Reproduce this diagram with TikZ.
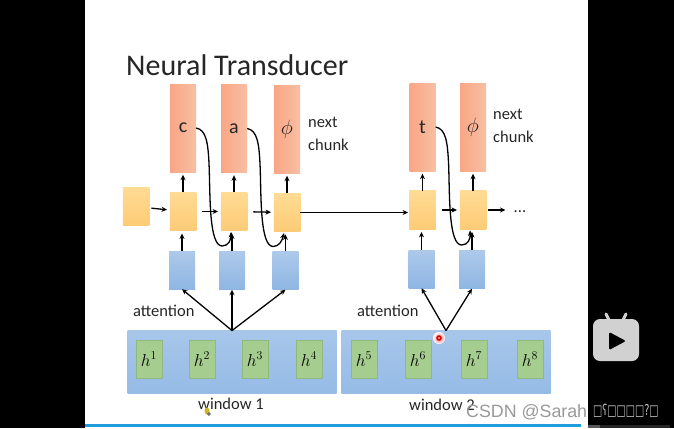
\documentclass[tikz,border=0pt]{standalone}
\usepackage{amsmath}
\usepackage{fontspec}
\setmainfont{Carlito}
\newfontfamily\markfont{Liberation Sans}
\newfontfamily\tofufont{DejaVu Sans}
\usepackage{tikz}
\usetikzlibrary{positioning,arrows.meta,calc,shapes.geometric}

\definecolor{outleft}{HTML}{F9A685}
\definecolor{outright}{HTML}{F8BFA3}
\definecolor{rnntop}{HTML}{FFDB94}
\definecolor{rnnbot}{HTML}{FDCB76}
\definecolor{ctxtop}{HTML}{ADC9EA}
\definecolor{ctxbot}{HTML}{8FB6E3}
\definecolor{wintop}{HTML}{A8C6EA}
\definecolor{winbot}{HTML}{95BBE6}
\definecolor{encfill}{HTML}{A6CD90}
\definecolor{encline}{HTML}{90B87C}
\definecolor{inktext}{HTML}{262626}

\begin{document}
\begin{tikzpicture}[x=1pt,y=-1pt,node distance=50pt,on grid,auto]

  \tikzset{
    outbox/.style={minimum width=26pt,minimum height=88pt,inner sep=0pt,left color=outleft,right color=outright,font=\fontsize{20}{20}\selectfont,text=inktext},
    rnnbox/.style={minimum width=26.5pt,minimum height=38.5pt,inner sep=0pt,top color=rnntop,bottom color=rnnbot},
    ctxbox/.style={minimum width=26pt,minimum height=38pt,inner sep=0pt,top color=ctxtop,bottom color=ctxbot},
    window/.style={minimum width=209pt,minimum height=62.5pt,inner sep=0pt,top color=wintop,bottom color=winbot},
    encbox/.style={minimum width=26pt,minimum height=38pt,inner sep=0pt,fill=encfill,draw=encline,font=\fontsize{17}{17}\selectfont},
    lab/.style={font=\fontsize{16.5}{23}\selectfont,text=inktext,inner sep=0pt},
    link/.style={-{Stealth[length=5.5pt,width=5pt]},line width=1.3pt,shorten >=2.5pt},
    skipline/.style={-{Stealth[length=5.5pt,width=5pt]},line width=1.3pt},
  }

  % panels
  \fill[white] (0,0) rectangle (674,428);
  \fill[black] (0,0) rectangle (85,428);
  \fill[black] (588,0) rectangle (674,428);
  \fill[cyan!80!blue!90!white] (85,424) rectangle (581,427);
  \fill[black!65] (588,425) rectangle (600,428);
  \fill[black!85] (600,425) rectangle (670,428);

  \node[anchor=base west,inner sep=0pt,font=\fontsize{30}{30}\selectfont,text=inktext] (title) at (126,75) {Neural Transducer};

  \node[rnnbox] (rnn0) at (136,206.5) {};
  \node[rnnbox] (rnn1) [right=47pt of rnn0,yshift=-5pt] {};
  \node[rnnbox] (rnn2) [right=51pt of rnn1] {};
  \node[rnnbox] (rnn3) [right=53pt of rnn2,yshift=-1pt] {};
  \node[rnnbox] (rnn4) [right=135.5pt of rnn3,yshift=2.5pt] {};
  \node[rnnbox] (rnn5) [right=50.5pt of rnn4] {};
  \node[lab] (dots) [right=40.5pt of rnn5,yshift=-2pt,anchor=west] {...};

  \node[outbox] (c) [above=83.5pt of rnn1] {c};
  \node[outbox] (a) [above=83pt of rnn2] {a};
  \node[outbox] (phi1) [above=83.5pt of rnn3] {$\phi$};
  \node[outbox] (t) [above=83pt of rnn4] {t};
  \node[outbox] (phi2) [above=83pt of rnn5] {$\phi$};

  \node[lab,align=left] (next1) [right=21pt of phi1,yshift=-5pt,anchor=west] {next\\chunk};
  \node[lab,align=left] (next2) [right=20pt of phi2,yshift=1.5pt,anchor=west] {next\\chunk};

  \node[ctxbox] (b1) [below=58.5pt of rnn1,xshift=-1pt] {};
  \node[ctxbox] (b2) [below=59pt of rnn2,xshift=-2pt] {};
  \node[ctxbox] (b3) [below=58pt of rnn3,xshift=-1.5pt] {};
  \node[ctxbox] (b4) [below=59pt of rnn4,xshift=-1pt] {};
  \node[ctxbox] (b5) [below=59.5pt of rnn5,xshift=-1pt] {};

  \node[window] (win1) at (232,362) {};
  \node[window] (win2) [right=214pt of win1] {};

  \node[encbox] (h1) at (149,359) {$h^1$};
  \node[encbox] (h2) [right=53pt of h1] {$h^2$};
  \node[encbox] (h3) [right=53pt of h2] {$h^3$};
  \node[encbox] (h4) [right=54pt of h3] {$h^4$};
  \node[encbox] (h5) at (364,359) {$h^5$};
  \node[encbox] (h6) [right=54pt of h5] {$h^6$};
  \node[encbox] (h7) [right=56pt of h6] {$h^7$};
  \node[encbox] (h8) [right=56pt of h7] {$h^8$};

  \node[lab,anchor=base west] (att1) at (133,316) {attention};
  \node[lab,anchor=base west] (att2) at (357,316) {attention};
  \node[lab,anchor=base west] (win1lab) at (198,409) {window 1};
  \node[lab,anchor=base west] (win2lab) at (409,410) {window 2};

  % forward chain
  \path[link,shorten <=2pt] (rnn0) edge (rnn1);
  \path[link,shorten <=6pt] (rnn1) edge (rnn2);
  \path[link,shorten <=6pt] (rnn2) edge (rnn3);
  \draw[link,shorten >=1pt] (rnn3.east) to (rnn3.east -| rnn4.west);
  \path[link,shorten <=6pt] (rnn4) edge (rnn5);
  \draw[link,shorten <=2pt,shorten >=8pt] (rnn5.east) to (rnn5.east -| dots.west);

  \path[link] (rnn1) edge (c);
  \path[link] (rnn2) edge (a);
  \path[link] (rnn3) edge (phi1);
  \path[link] (rnn4) edge (t);
  \path[link] (rnn5) edge (phi2);

  \draw[link] (b1.north) to (b1.north |- rnn1.south);
  \draw[link] (b2.north) to (b2.north |- rnn2.south);
  \draw[link] (b3.north) to (b3.north |- rnn3.south);
  \draw[link] (b4.north) to (b4.north |- rnn4.south);
  \draw[link] (b5.north) to (b5.north |- rnn5.south);

  \draw[link,shorten >=0pt] (win1.north) to (b1.south);
  \draw[link,shorten >=0pt] (win1.north) to (b2.south);
  \draw[link,shorten >=0pt] (win1.north) to (b3.south);
  \draw[link,shorten >=0pt] (win2.north) to (b4.south);
  \draw[link,shorten >=0pt] (win2.north) to (b5.south);

  % previous output fed back in
  \draw[skipline] (c.east) .. controls ($(c.east)+(10,2)$) and ($(c.east)+(12,14)$) .. ($(c.east)+(13,40)$)
    .. controls ($(c.east)+(14,70)$) and ($(c.east)+(13,118)$) .. ($(c.east)+(26,118)$)
    .. controls ($(c.east)+(32,118)$) and ($(c.east)+(35,112)$) .. ($(rnn2.south)+(-3,1)$);
  \draw[skipline] (a.east) .. controls ($(a.east)+(10,2)$) and ($(a.east)+(12,14)$) .. ($(a.east)+(13,40)$)
    .. controls ($(a.east)+(14,70)$) and ($(a.east)+(13,118)$) .. ($(a.east)+(26,118)$)
    .. controls ($(a.east)+(32,118)$) and ($(a.east)+(35,112)$) .. ($(rnn3.south)+(-3,1)$);
  \draw[skipline] (t.east) .. controls ($(t.east)+(10,2)$) and ($(t.east)+(12,14)$) .. ($(t.east)+(13,40)$)
    .. controls ($(t.east)+(14,70)$) and ($(t.east)+(13,118)$) .. ($(t.east)+(26,118)$)
    .. controls ($(t.east)+(32,118)$) and ($(t.east)+(35,112)$) .. ($(rnn5.south)+(-3,1)$);

  % screen recording marks
  \shade[inner color=red!60!white,outer color=white,draw=none] (439,338) circle (6);
  \fill[red!85!black] (439,338) circle (2.8);
  \fill[white] (439,338) circle (0.9);
  \fill[yellow!70!orange!80!black] (207,411) ellipse (2.5 and 3.5);
  \fill[black!70] (209,414) circle (1.8);
  \fill[white] (209,414) circle (0.7);

  \fill[black!18,rounded corners=7pt] (593,319) rectangle (639,361);
  \draw[black!18,line width=3pt,line cap=round] (609,320) -- (606,314);
  \draw[black!18,line width=3pt,line cap=round] (623,320) -- (626,314);
  \fill[black,rounded corners=1.5pt] (609,332) -- (626,341) -- (609,350) -- cycle;

  \node[anchor=base west,inner sep=0pt,font=\markfont\fontsize{17.8}{17.8}\selectfont,text=black!40] (mark) at (466,417) {CSDN @Sarah};
  \node[anchor=base west,inner sep=0pt,font=\tofufont\fontsize{15}{15}\selectfont,text=black!25] (tofu) at (593,415) {\scalebox{.65}[1]{□ʕ□□□□?□}};

  \useasboundingbox (0,0) rectangle (674,428);
\end{tikzpicture}
\end{document}
